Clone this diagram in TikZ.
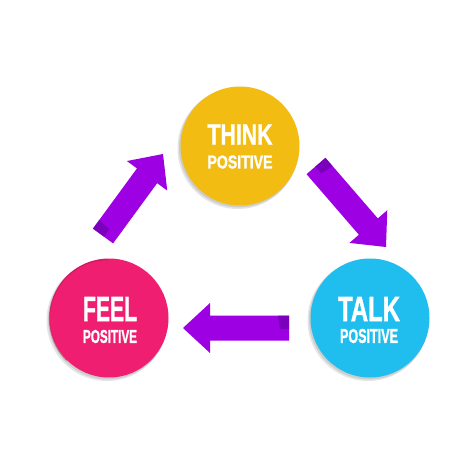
\documentclass[tikz,border=0pt]{standalone}
\usepackage{fontspec}
\usepackage{graphicx}
\setmainfont{Liberation Sans}
\newfontfamily\heavyfont{Liberation Sans}[BoldFeatures={FakeBold=1.5}]
\usetikzlibrary{calc}
\definecolor{cyellow}{RGB}{242,188,18}
\definecolor{cpink}{RGB}{240,30,112}
\definecolor{ccyan}{RGB}{32,190,238}
\definecolor{cpurple}{RGB}{158,0,228}
\definecolor{cpurpledark}{RGB}{100,0,160}
\newcommand\mylabel[3]{\resizebox{#1}{#2}{\heavyfont\bfseries #3}}
\newcommand\purplearrow[3]{%
  \fill[cpurple]
    ($(#1)!12.5pt!-90:(#2)$) --
    ($($(#2)!27pt!(#1)$)!12.5pt!-90:(#2)$) --
    ($($(#2)!27pt!(#1)$)!25pt!-90:(#2)$) --
    (#2) --
    ($($(#2)!27pt!(#1)$)!25pt!90:(#2)$) --
    ($($(#2)!27pt!(#1)$)!12.5pt!90:(#2)$) --
    ($(#1)!12.5pt!90:(#2)$) -- cycle;
  \fill[cpurpledark,opacity=0.6]
    ($(#1)!12.5pt!#3:(#2)$) --
    ($(#1)!1pt!-#3:(#2)$) --
    ($($(#1)!9pt!(#2)$)!1pt!-#3:(#2)$) --
    ($($(#1)!11pt!(#2)$)!12.5pt!#3:(#2)$) -- cycle;
}
\tikzset{
  lbl/.style={inner sep=0pt, outer sep=0pt, text=white, anchor=center},
  shadowdisc/.style={fill=black, opacity=0.10},
}
\begin{document}
\begin{tikzpicture}[x=1pt,y=-1pt]
\useasboundingbox (0,0) rectangle (474,474);
\fill[white] (0,0) rectangle (474,474);

% circle centres
\coordinate (think) at (240,146);
\coordinate (feel) at (109,318);
\coordinate (talk) at (370,318);

% soft shadows
\foreach \c in {think,feel,talk}{
  \fill[shadowdisc] ($(\c)+(-2,2.5)$) circle (60.5);
  \fill[shadowdisc] ($(\c)+(-1,1.5)$) circle (60);
}
\fill[cyellow] (think) circle (59.5);
\fill[cpink] (feel) circle (59.5);
\fill[ccyan] (talk) circle (59.5);
\draw[cpink!70!black, line width=1pt, opacity=0.5] ($(feel)+(-0.6,0.6)$) ++(135:59) arc[start angle=135, end angle=270, radius=59];

% labels
\node[lbl] (t1) at (240,134.5) {\mylabel{65pt}{20pt}{THINK}};
\node[lbl] (t2) at (240,162) {\mylabel{65pt}{13pt}{POSITIVE}};
\node[lbl] (f1) at (110,309) {\mylabel{54pt}{24pt}{FEEL}};
\node[lbl] (f2) at (110,336.5) {\mylabel{54pt}{13pt}{POSITIVE}};
\node[lbl] (k1) at (369,309) {\mylabel{62pt}{24pt}{TALK}};
\node[lbl] (k2) at (369,336) {\mylabel{58pt}{14pt}{POSITIVE}};

% arrows
\coordinate (ua) at (103,236);
\coordinate (ub) at (163,154);
\coordinate (da) at (316,166);
\coordinate (db) at (386,247);
\coordinate (la) at (289,328);
\coordinate (lb) at (183,328);
\purplearrow{ua}{ub}{90}
\purplearrow{da}{db}{90}
\purplearrow{la}{lb}{-90}
\end{tikzpicture}
\end{document}
